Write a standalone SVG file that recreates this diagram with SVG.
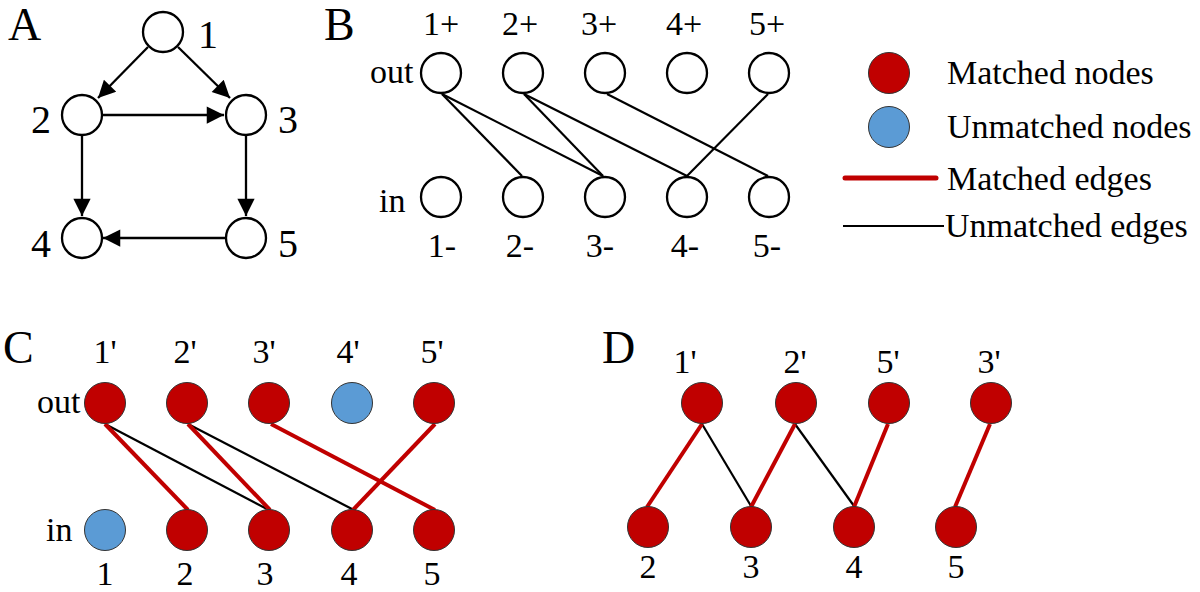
<svg xmlns="http://www.w3.org/2000/svg" width="1200" height="592" viewBox="0 0 1200 592" font-family="'Liberation Serif', 'DejaVu Serif', serif">
<defs>
<style>
text{font-family:'Liberation Serif','DejaVu Serif',serif;fill:#000}
.big{font-size:46px}
.la{font-size:40px}
.lb{font-size:34px}
.mc{text-anchor:middle}
.wn{fill:#fff;stroke:#000;stroke-width:2.3}
.rn{fill:#C00000;stroke:#333;stroke-width:1}
.bn{fill:#5B9BD5;stroke:#333;stroke-width:1}
.ar{stroke:#000;stroke-width:2.3;fill:none;marker-end:url(#ah)}
.ue{stroke:#000;stroke-width:2.2;fill:none}
.me{stroke:#C00000;stroke-width:4;fill:none}
</style>
<marker id="ah" viewBox="0 0 10 10" refX="10" refY="5" markerWidth="9" markerHeight="7.5" markerUnits="strokeWidth" orient="auto">
<path d="M0,0 L10,5 L0,10 Z" fill="#000"/>
</marker>
</defs>
<rect width="1200" height="592" fill="#fff"/>

<!-- Panel A -->
<text class="big" x="8" y="40">A</text>
<g id="connectors-A">
<line class="ar" x1="148" y1="47" x2="98" y2="98"/>
<line class="ar" x1="178" y1="47" x2="230" y2="98"/>
<line class="ar" x1="102" y1="115" x2="224" y2="115"/>
<line class="ar" x1="82" y1="135" x2="82" y2="216"/>
<line class="ar" x1="246" y1="135" x2="246" y2="216"/>
<line class="ar" x1="226" y1="238" x2="103" y2="238"/>
</g>
<g id="A1"><circle class="wn" cx="163" cy="32" r="20"/><text class="la" x="198" y="48">1</text></g>
<g id="A2"><circle class="wn" cx="82" cy="115" r="20"/><text class="la" x="31" y="133">2</text></g>
<g id="A3"><circle class="wn" cx="246" cy="115" r="20"/><text class="la" x="278" y="133">3</text></g>
<g id="A4"><circle class="wn" cx="82" cy="238" r="20"/><text class="la" x="31" y="257">4</text></g>
<g id="A5"><circle class="wn" cx="246" cy="238" r="20"/><text class="la" x="278" y="257">5</text></g>

<!-- Panel B -->
<text class="big" x="324" y="40">B</text>
<text class="lb" x="370" y="83">out</text>
<text class="lb" x="379" y="212">in</text>
<g id="connectors-B">
<line class="ue" x1="442" y1="94" x2="522" y2="176"/>
<line class="ue" x1="442" y1="94" x2="603" y2="176"/>
<line class="ue" x1="524" y1="94" x2="603" y2="176"/>
<line class="ue" x1="524" y1="94" x2="687" y2="176"/>
<line class="ue" x1="607" y1="94" x2="768" y2="176"/>
<line class="ue" x1="768" y1="94" x2="687" y2="176"/>
</g>
<g id="B1p"><circle class="wn" cx="441" cy="73" r="20"/><text class="lb mc" x="441" y="35">1+</text></g>
<g id="B2p"><circle class="wn" cx="523" cy="73" r="20"/><text class="lb mc" x="520" y="35">2+</text></g>
<g id="B3p"><circle class="wn" cx="605" cy="73" r="20"/><text class="lb mc" x="599" y="35">3+</text></g>
<g id="B4p"><circle class="wn" cx="687" cy="73" r="20"/><text class="lb mc" x="684" y="35">4+</text></g>
<g id="B5p"><circle class="wn" cx="769" cy="73" r="20"/><text class="lb mc" x="767" y="35">5+</text></g>
<g id="B1m"><circle class="wn" cx="441" cy="197" r="20"/><text class="lb mc" x="442" y="257">1-</text></g>
<g id="B2m"><circle class="wn" cx="523" cy="197" r="20"/><text class="lb mc" x="520" y="257">2-</text></g>
<g id="B3m"><circle class="wn" cx="605" cy="197" r="20"/><text class="lb mc" x="600" y="257">3-</text></g>
<g id="B4m"><circle class="wn" cx="687" cy="197" r="20"/><text class="lb mc" x="685" y="257">4-</text></g>
<g id="B5m"><circle class="wn" cx="769" cy="197" r="20"/><text class="lb mc" x="767" y="257">5-</text></g>

<!-- Legend -->
<g id="legend">
<circle class="rn" cx="889" cy="73" r="20.5"/>
<text class="lb" x="947" y="84">Matched nodes</text>
<circle class="bn" cx="889" cy="127" r="20.5"/>
<text class="lb" x="947" y="138">Unmatched nodes</text>
<line x1="845" y1="178" x2="936" y2="178" stroke="#C00000" stroke-width="5" stroke-linecap="round"/>
<text class="lb" x="947" y="190">Matched edges</text>
<line x1="843" y1="226" x2="944" y2="226" stroke="#000" stroke-width="2"/>
<text class="lb" x="945" y="237">Unmatched edges</text>
</g>

<!-- Panel C -->
<text class="big" x="3" y="363">C</text>
<text class="lb" x="37" y="413">out</text>
<text class="lb" x="46" y="541">in</text>
<g id="connectors-C">
<line class="ue" x1="105" y1="424" x2="267" y2="509"/>
<line class="ue" x1="188" y1="424" x2="352" y2="509"/>
<line class="me" x1="105" y1="424" x2="188" y2="510"/>
<line class="me" x1="188" y1="424" x2="270" y2="510"/>
<line class="me" x1="271" y1="424" x2="435" y2="510"/>
<line class="me" x1="435" y1="424" x2="353" y2="510"/>
</g>
<g id="C1p"><circle class="rn" cx="105" cy="403" r="20.5"/><text class="lb mc" x="105" y="363">1'</text></g>
<g id="C2p"><circle class="rn" cx="187" cy="403" r="20.5"/><text class="lb mc" x="185" y="363">2'</text></g>
<g id="C3p"><circle class="rn" cx="269" cy="403" r="20.5"/><text class="lb mc" x="264" y="363">3'</text></g>
<g id="C4p"><circle class="bn" cx="352" cy="403" r="20.5"/><text class="lb mc" x="348" y="363">4'</text></g>
<g id="C5p"><circle class="rn" cx="434" cy="403" r="20.5"/><text class="lb mc" x="432" y="363">5'</text></g>
<g id="C1m"><circle class="bn" cx="105" cy="530" r="20.5"/><text class="lb mc" x="105" y="585">1</text></g>
<g id="C2m"><circle class="rn" cx="187" cy="530" r="20.5"/><text class="lb mc" x="185" y="585">2</text></g>
<g id="C3m"><circle class="rn" cx="269" cy="530" r="20.5"/><text class="lb mc" x="265" y="585">3</text></g>
<g id="C4m"><circle class="rn" cx="352" cy="530" r="20.5"/><text class="lb mc" x="349" y="585">4</text></g>
<g id="C5m"><circle class="rn" cx="434" cy="530" r="20.5"/><text class="lb mc" x="432" y="585">5</text></g>

<!-- Panel D -->
<text class="big" x="602" y="363">D</text>
<g id="connectors-D">
<line class="ue" x1="702" y1="424" x2="751" y2="506"/>
<line class="ue" x1="795" y1="424" x2="854" y2="506"/>
<line class="me" x1="702" y1="424" x2="647" y2="507"/>
<line class="me" x1="795" y1="424" x2="751" y2="507"/>
<line class="me" x1="888" y1="424" x2="854" y2="507"/>
<line class="me" x1="990" y1="424" x2="955" y2="507"/>
</g>
<g id="D1p"><circle class="rn" cx="702" cy="403" r="20.5"/><text class="lb mc" x="685" y="373">1'</text></g>
<g id="D2p"><circle class="rn" cx="796" cy="403" r="20.5"/><text class="lb mc" x="795" y="373">2'</text></g>
<g id="D5p"><circle class="rn" cx="889" cy="403" r="20.5"/><text class="lb mc" x="888" y="373">5'</text></g>
<g id="D3p"><circle class="rn" cx="991" cy="403" r="20.5"/><text class="lb mc" x="989" y="373">3'</text></g>
<g id="D2"><circle class="rn" cx="648" cy="527" r="20.5"/><text class="lb mc" x="648" y="578">2</text></g>
<g id="D3"><circle class="rn" cx="751" cy="527" r="20.5"/><text class="lb mc" x="751" y="578">3</text></g>
<g id="D4"><circle class="rn" cx="854" cy="527" r="20.5"/><text class="lb mc" x="854" y="578">4</text></g>
<g id="D5"><circle class="rn" cx="956" cy="527" r="20.5"/><text class="lb mc" x="956" y="578">5</text></g>
</svg>
